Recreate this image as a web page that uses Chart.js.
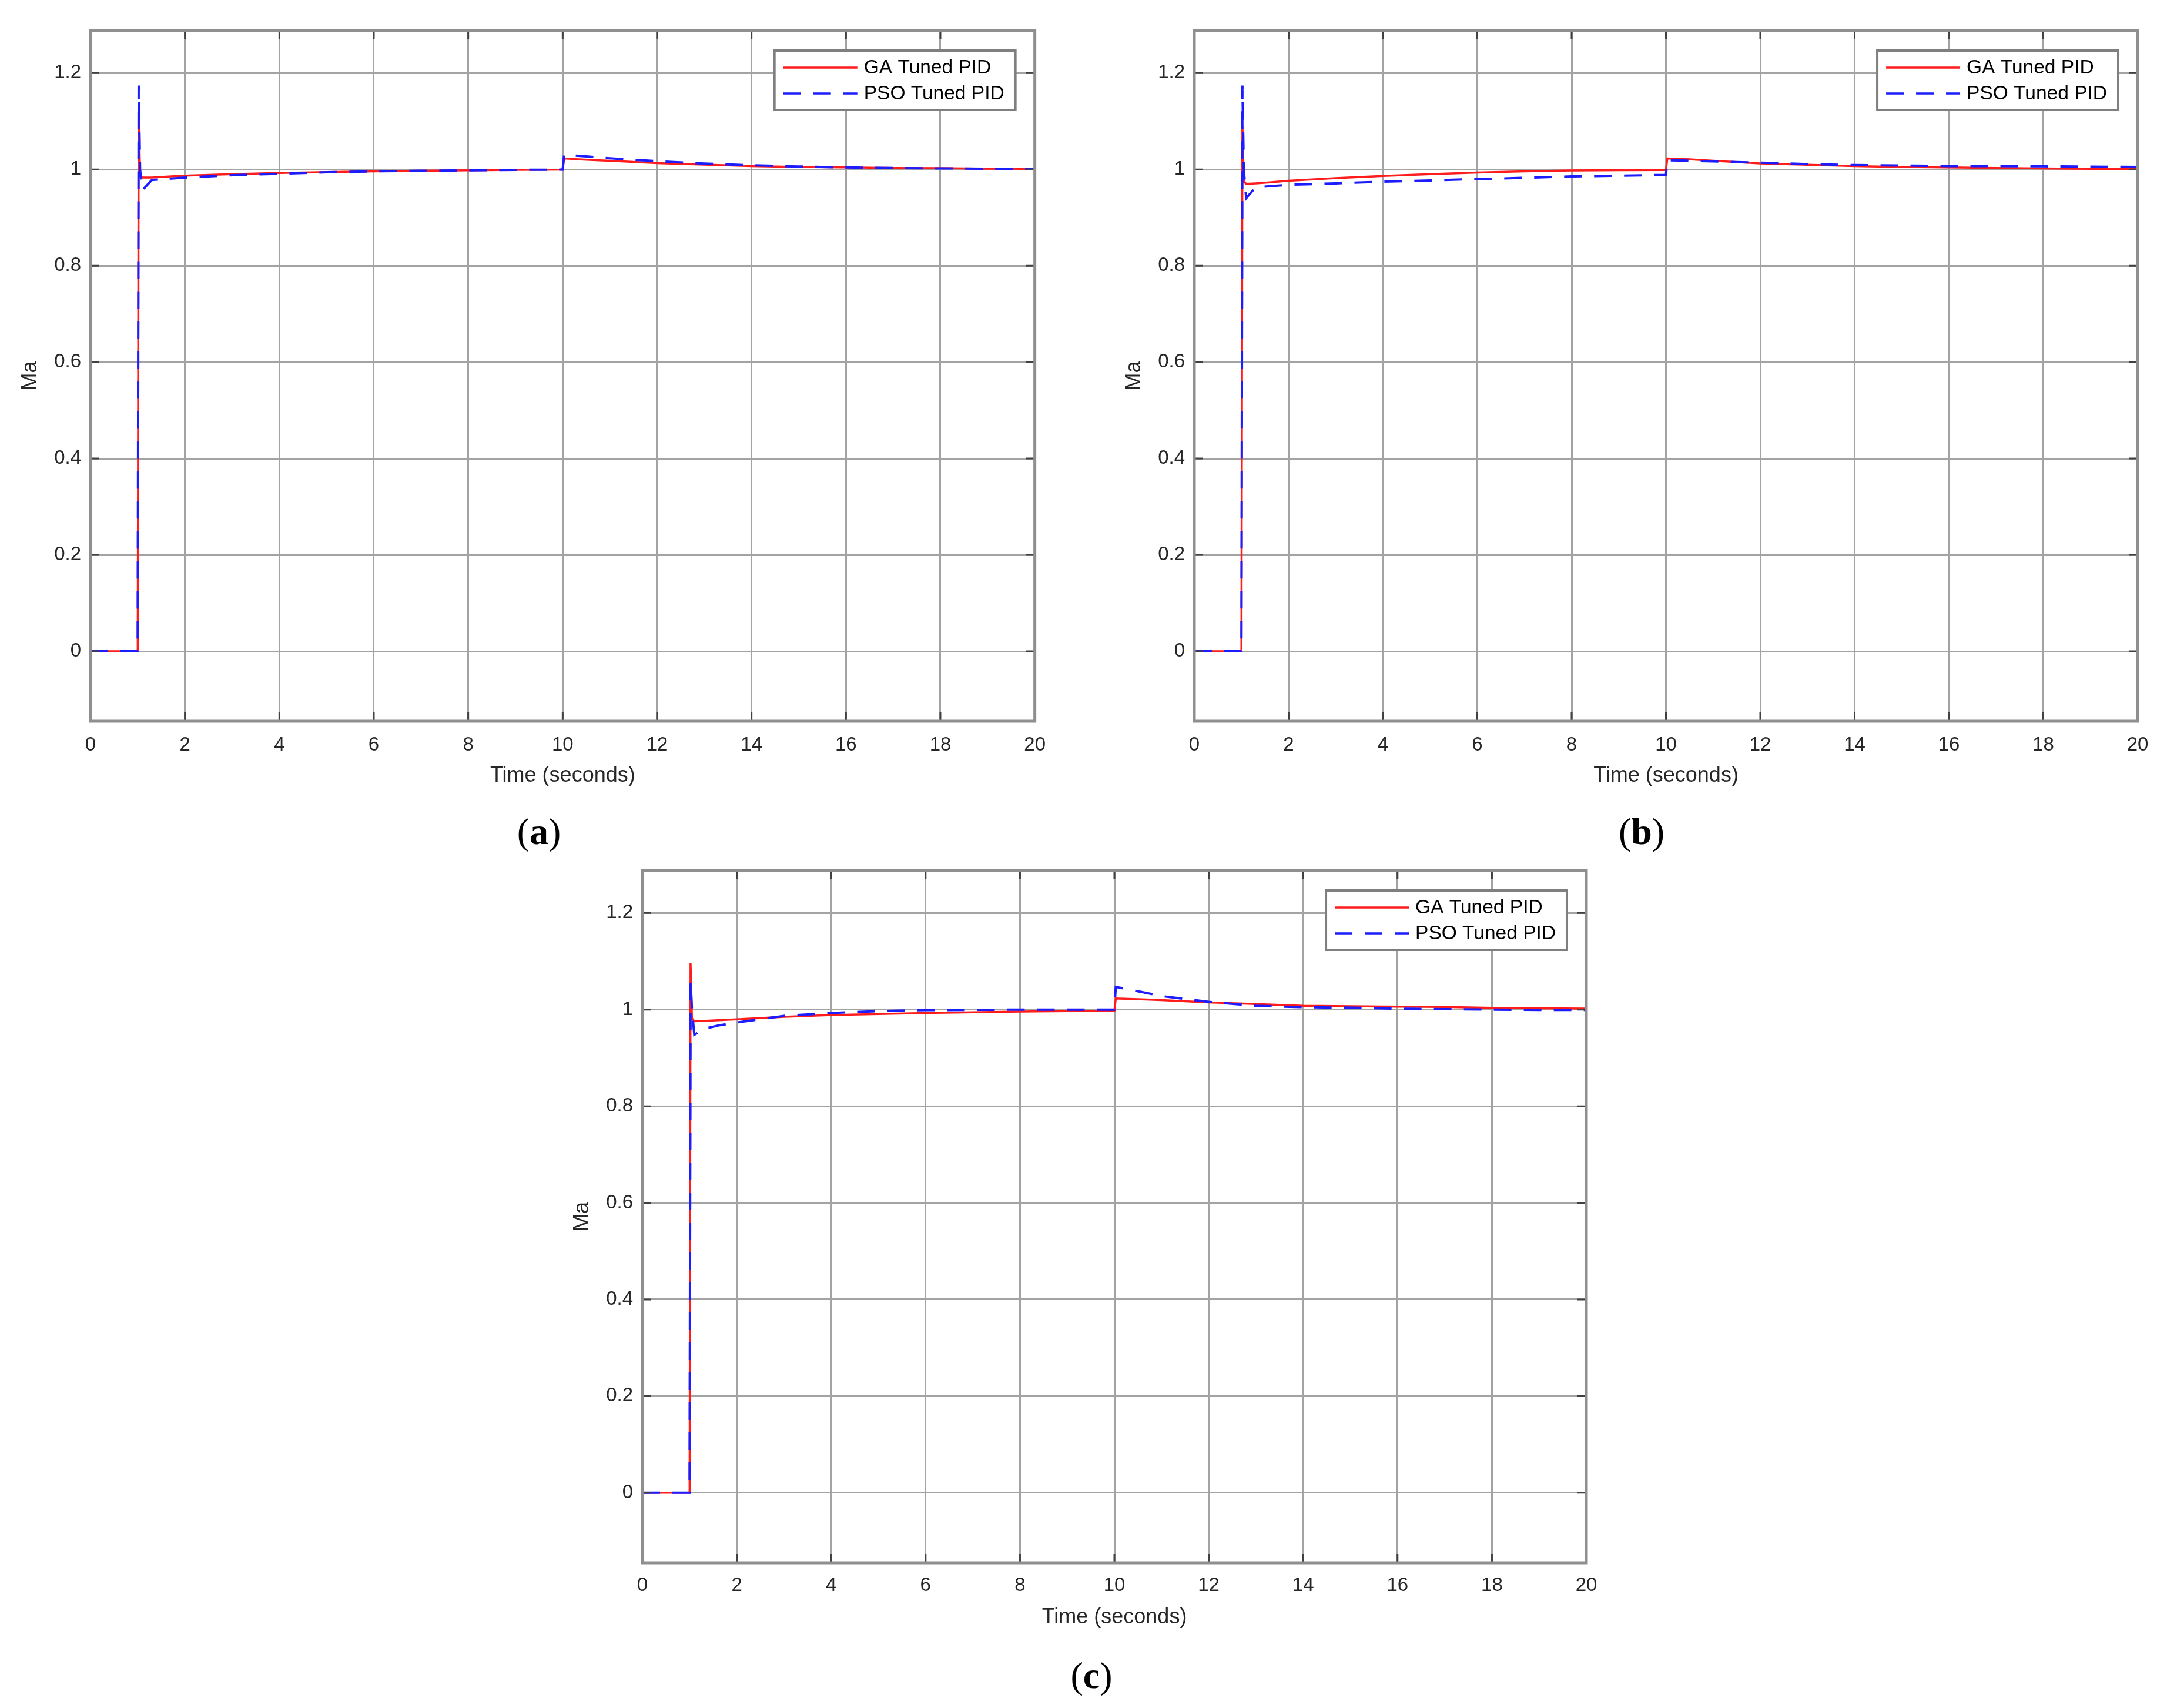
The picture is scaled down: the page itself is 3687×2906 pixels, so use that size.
<!DOCTYPE html>
<html>
<head>
<meta charset="utf-8">
<script src="https://cdn.jsdelivr.net/npm/chart.js@4.4.1/dist/chart.umd.min.js"></script>
<style>
  html, body { margin: 0; padding: 0; background: #fff; }
  body { width: 3687px; height: 2906px; position: relative; overflow: hidden; }
  .panel { position: absolute; }
  .cap { position: absolute; font-family: 'Liberation Serif', 'Times New Roman', serif; font-size: 64px;
         line-height: 1; transform: translate(-50%, -50%); color: #000; white-space: nowrap; }
</style>
</head>
<body>
<div class="panel" style="left:0px;top:0px"><canvas id="chartA" width="1800" height="1340"></canvas></div>
<div class="panel" style="left:1878px;top:0px"><canvas id="chartB" width="1800" height="1340"></canvas></div>
<div class="panel" style="left:939px;top:1429px"><canvas id="chartC" width="1800" height="1350"></canvas></div>
<div class="cap" style="left:917px;top:1415px">(<b>a</b>)</div>
<div class="cap" style="left:2793px;top:1415px">(<b>b</b>)</div>
<div class="cap" style="left:1857px;top:2851px">(<b>c</b>)</div>
<script>
// time samples (s), shared by all three runs
const time = [0, 1, 1.02, 1.05, 1.1, 1.3, 1.6, 2, 3, 4, 5, 6, 7, 8, 9, 10, 10.03, 10.5, 11, 12, 13, 14, 15, 16, 17, 18, 19, 20];

// (a)
const gaA  = [0, 0, 1.12, 0.986, 0.983, 0.983, 0.985, 0.987, 0.990, 0.9925, 0.9945, 0.996, 0.997, 0.998, 0.999, 0.9995, 1.0226, 1.020, 1.018, 1.013, 1.010, 1.007, 1.005, 1.004, 1.003, 1.0025, 1.0015, 1.001];
const psoA = [0, 0, 1.174, 1.0, 0.957, 0.978, 0.980, 0.983, 0.988, 0.991, 0.994, 0.996, 0.997, 0.998, 0.999, 0.9995, 1.030, 1.027, 1.023, 1.017, 1.012, 1.0085, 1.006, 1.004, 1.003, 1.002, 1.0015, 1.001];
// (b)
const gaB  = [0, 0, 1.09, 0.975, 0.970, 0.971, 0.973, 0.9765, 0.982, 0.9866, 0.990, 0.9935, 0.996, 0.9976, 0.9984, 0.9988, 1.0226, 1.021, 1.018, 1.0125, 1.0095, 1.007, 1.005, 1.004, 1.003, 1.002, 1.001, 1.0005];
const psoB = [0, 0, 1.174, 1.0, 0.940, 0.963, 0.965, 0.968, 0.971, 0.9745, 0.977, 0.980, 0.9825, 0.9854, 0.987, 0.9887, 1.019, 1.018, 1.0165, 1.014, 1.011, 1.009, 1.008, 1.007, 1.0068, 1.0065, 1.0058, 1.005];
// (c)
const gaC  = [0, 0, 1.097, 0.982, 0.976, 0.9765, 0.978, 0.980, 0.985, 0.9887, 0.991, 0.993, 0.9945, 0.996, 0.997, 0.9976, 1.023, 1.0215, 1.0197, 1.015, 1.0115, 1.008, 1.007, 1.0062, 1.0055, 1.0036, 1.0027, 1.002];
const psoC = [0, 0, 1.06, 1.0, 0.948, 0.960, 0.967, 0.9734, 0.987, 0.993, 0.997, 0.999, 0.9995, 1.0, 1.0, 1.0, 1.047, 1.038, 1.028, 1.016, 1.0078, 1.005, 1.004, 1.002, 1.001, 1.0, 0.9995, 0.9995];

const seriesNames = ['GA Tuned PID', 'PSO Tuned PID'];
const xTicks = [0, 2, 4, 6, 8, 10, 12, 14, 16, 18, 20];
const yTicks = [0, 0.2, 0.4, 0.6, 0.8, 1, 1.2];
const xTitle = 'Time (seconds)';
const yTitle = 'Ma';

const FONT = "'Liberation Sans', Arial, Helvetica, sans-serif";
const RED = '#ff1c1c';
const BLUE = '#1c1cff';

function pts(vals) {
  return time.map((t, i) => ({ x: t, y: vals[i] }));
}

// box, grey grid and inner tick marks the way MATLAB draws them
const framePlugin = {
  id: 'frame',
  afterDatasetsDraw(chart) {
    const { ctx, chartArea: a } = chart;
    const x = chart.scales.x, y = chart.scales.y;
    ctx.save();
    ctx.strokeStyle = '#404040';
    ctx.lineWidth = 3;
    ctx.beginPath();
    xTicks.forEach(v => {
      const px = x.getPixelForValue(v);
      ctx.moveTo(px, a.bottom); ctx.lineTo(px, a.bottom - 15);
      ctx.moveTo(px, a.top); ctx.lineTo(px, a.top + 15);
    });
    yTicks.forEach(v => {
      const py = y.getPixelForValue(v);
      ctx.moveTo(a.left, py); ctx.lineTo(a.left + 15, py);
      ctx.moveTo(a.right, py); ctx.lineTo(a.right - 15, py);
    });
    ctx.stroke();
    ctx.strokeStyle = '#8f8f8f';
    ctx.lineWidth = 5;
    ctx.strokeRect(a.left, a.top, a.right - a.left, a.bottom - a.top);
    ctx.restore();
  }
};

// boxed legend in the upper right corner of the axes
const boxLegend = {
  id: 'boxLegend',
  afterDraw(chart) {
    const { ctx, chartArea: a } = chart;
    const sets = chart.data.datasets.slice().sort((p, q) => p.legendIndex - q.legendIndex);
    ctx.save();
    ctx.font = '33.5px ' + FONT;
    const textW = Math.max(...sets.map(d => ctx.measureText(d.label).width));
    const w = 15 + 126 + 13 + textW + 17;
    const h = 101;
    const left = a.right - 33 - w;
    const top = a.top + 34;
    ctx.fillStyle = '#fff';
    ctx.fillRect(left, top, w, h);
    ctx.strokeStyle = '#7f7f7f';
    ctx.lineWidth = 4;
    ctx.strokeRect(left, top, w, h);
    sets.forEach((d, i) => {
      const cy = top + 29 + i * 44;
      ctx.strokeStyle = d.borderColor;
      ctx.lineWidth = 3.5;
      ctx.setLineDash(d.borderDash || []);
      ctx.beginPath();
      ctx.moveTo(left + 15, cy);
      ctx.lineTo(left + 141, cy);
      ctx.stroke();
      ctx.setLineDash([]);
      ctx.fillStyle = '#000';
      ctx.textBaseline = 'middle';
      ctx.textAlign = 'left';
      ctx.fillText(d.label, left + 152, cy + 1);
    });
    ctx.restore();
  }
};

function makePanel(id, ga, pso, rightPad, xAxisH, tickPad, titlePadBottom) {
  new Chart(document.getElementById(id), {
    type: 'line',
    data: {
      datasets: [
        { label: seriesNames[0], data: pts(ga), borderColor: RED, borderWidth: 3.5,
          pointRadius: 0, tension: 0, order: 2, legendIndex: 0 },
        { label: seriesNames[1], data: pts(pso), borderColor: BLUE, borderWidth: 4,
          borderDash: [30, 21], pointRadius: 0, tension: 0, order: 1, legendIndex: 1 }
      ]
    },
    options: {
      responsive: false,
      devicePixelRatio: 1,
      animation: false,
      layout: { padding: { top: 52, right: rightPad, left: 0, bottom: 0 } },
      plugins: { legend: { display: false }, tooltip: { enabled: false } },
      scales: {
        x: {
          type: 'linear', min: 0, max: 20,
          afterBuildTicks: s => { s.ticks = xTicks.map(v => ({ value: v })); },
          afterFit: s => { s.height = xAxisH; },
          grid: { color: '#a3a3a3', lineWidth: 3, drawTicks: false },
          border: { display: false },
          ticks: { color: '#262626', padding: tickPad, maxRotation: 0,
                   font: { family: FONT, size: 33 }, callback: v => String(+v.toFixed(1)) },
          title: { display: true, text: xTitle, color: '#262626',
                   font: { family: FONT, size: 36 }, padding: { top: 0, bottom: titlePadBottom } }
        },
        y: {
          type: 'linear', min: -0.145, max: 1.288,
          afterBuildTicks: s => { s.ticks = yTicks.map(v => ({ value: v })); },
          afterFit: s => { s.width = 154; },
          grid: { color: '#a3a3a3', lineWidth: 3, drawTicks: false },
          border: { display: false },
          ticks: { color: '#262626', padding: 16,
                   font: { family: FONT, size: 33 }, callback: v => String(+v.toFixed(1)) },
          title: { display: true, text: yTitle, color: '#262626',
                   font: { family: FONT, size: 36 }, padding: { top: 30, bottom: 0 } }
        }
      }
    },
    plugins: [framePlugin, boxLegend]
  });
}

makePanel('chartA', gaA, psoA, 39, 113, 21, -2);
makePanel('chartB', gaB, psoB, 41, 113, 21, -2);
makePanel('chartC', gaC, psoC, 40, 120, 19, 5);
</script>
</body>
</html>
